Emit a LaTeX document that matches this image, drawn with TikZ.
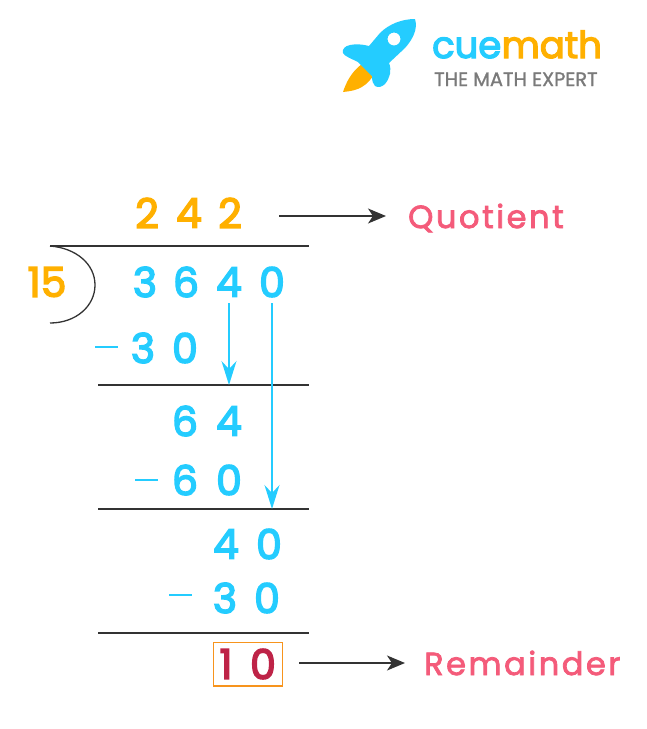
\documentclass[tikz,border=0pt]{standalone}
\usepackage{fontspec}
\setmainfont{Poppins}
\newfontfamily\spacedfont[LetterSpace=8,FakeBold=2.4]{Poppins}
\newfontfamily\digitfont[FakeBold=3.6]{Poppins}
\newfontfamily\logofont[FakeBold=3.4]{Poppins}
\newfontfamily\tagfont[FakeBold=1.2]{Poppins}
\usetikzlibrary{arrows.meta}
\definecolor{cueblue}{HTML}{24CCFF}
\definecolor{cueorange}{HTML}{FFB000}
\definecolor{cueframe}{HTML}{F7941D}
\definecolor{cuepink}{HTML}{F45B7A}
\definecolor{cuered}{HTML}{BE2347}
\definecolor{cuegray}{HTML}{7A7A7A}
\definecolor{cueline}{HTML}{333333}
\tikzset{
  digit/.style={inner sep=0pt,font=\fontsize{41}{41}\digitfont},
  bluedigit/.style={digit,text=cueblue},
  orangedigit/.style={digit,text=cueorange},
  reddigit/.style={digit,text=cuered},
  labeltext/.style={inner sep=0pt,anchor=west,text=cuepink,font=\fontsize{32}{32}\spacedfont},
  rule/.style={draw=cueline,line width=1.5pt},
  pointer/.style={draw=cueline,line width=1.5pt,-{Stealth[length=18pt,width=15pt,inset=5pt]}},
  drop/.style={draw=cueblue,line width=1.5pt,-{Stealth[length=24pt,width=15pt,inset=8pt]}},
  minus/.style={draw=cueblue,line width=1.5pt}
}
\begin{document}
\begin{tikzpicture}[x=1pt,y=-1pt]
\useasboundingbox (0,0) rectangle (646,729);
% Draw the logo
        \fill[cueorange] (362,64) .. controls (351,72) and (346,83) .. (343,92)
        .. controls (352,91) and (364,90) .. (373,76) -- cycle;
        \fill[cueblue,even odd rule] (415,19) .. controls (402,19) and (389,24) .. (380,33)
        -- (369,46) .. controls (362,44) and (355,44) .. (350,45)
        .. controls (345,46) and (342,49) .. (343,53) .. controls (344,56) and (352,59) .. (358,62)
        -- (372,76) .. controls (372,81) and (373,84) .. (375,86)
        .. controls (378,88) and (382,87) .. (385,84) .. controls (390,78) and (392,70) .. (389,63)
        -- (405,48) .. controls (413,39) and (418,29) .. (415,19) -- cycle
        (394,39) circle[radius=6.5];
        \node[inner sep=0pt,anchor=base west] (cue) at (432,58) {\fontsize{37}{37}\logofont\color{cueblue}cue};
        \node[inner sep=0pt,anchor=base west] (math) at (cue.base east) {\fontsize{37}{37}\logofont\color{cueorange}math};
        \node[inner sep=0pt,anchor=base west,text=cuegray] (expert) at (434,86) {\fontsize{19.4}{19.4}\tagfont THE MATH EXPERT};
% Draw the quotient
        \node[orangedigit] (q1) at (147,213) {2};
        \node[orangedigit] (q2) at (189,213) {4};
        \node[orangedigit] (q3) at (230,213) {2};
        \node[labeltext] (quotient) at (408,218) {Quotient};
        \coordinate (qstart) at (279,216);
        \coordinate (qend) at (386,216);
        \draw[pointer] (qstart) -- (qend);
% Draw the divisor and the dividend
        \node[orangedigit] (divisor) at (47,282) {15};
        \node[bluedigit] (d1) at (145,282) {3};
        \node[bluedigit] (d2) at (186,282) {6};
        \node[bluedigit] (d3) at (229,282) {4};
        \node[bluedigit] (d4) at (272,282) {0};
        \coordinate (barleft) at (50,246);
        \coordinate (barright) at (309,246);
        \coordinate (hookend) at (50,323);
        \draw[rule] (barleft) -- (barright);
        \draw[cueline,line width=1.3pt] (barleft) .. controls (76,248) and (95,264) .. (95,285)
        .. controls (95,306) and (76,323) .. (hookend);
% Draw the first subtraction
        \coordinate (m1a) at (95,347);
        \coordinate (m1b) at (118,347);
        \draw[minus] (m1a) -- (m1b);
        \node[bluedigit] (s1) at (143,348) {3};
        \node[bluedigit] (s2) at (185,348) {0};
        \coordinate (r1a) at (98,385);
        \coordinate (r1b) at (309,385);
        \draw[rule] (r1a) -- (r1b);
        \node[bluedigit] (n1) at (185,421) {6};
        \node[bluedigit] (n2) at (229,421) {4};
% Draw the second subtraction
        \coordinate (m2a) at (135,480);
        \coordinate (m2b) at (158,480);
        \draw[minus] (m2a) -- (m2b);
        \node[bluedigit] (t1) at (185,480) {6};
        \node[bluedigit] (t2) at (229,480) {0};
        \coordinate (r2a) at (98,509);
        \coordinate (r2b) at (309,509);
        \draw[rule] (r2a) -- (r2b);
        \node[bluedigit] (u1) at (226,544) {4};
        \node[bluedigit] (u2) at (269,544) {0};
% Draw the third subtraction
        \coordinate (m3a) at (169,595);
        \coordinate (m3b) at (192,595);
        \draw[minus] (m3a) -- (m3b);
        \node[bluedigit] (v1) at (225,598) {3};
        \node[bluedigit] (v2) at (267,598) {0};
        \coordinate (r3a) at (98,633);
        \coordinate (r3b) at (309,633);
        \draw[rule] (r3a) -- (r3b);
% Draw the remainder
        \coordinate (boxa) at (213.5,642.5);
        \coordinate (boxb) at (282.5,686);
        \draw[cueframe,line width=1.5pt] (boxa) rectangle (boxb);
        \node[reddigit] (w1) at (226,664) {1};
        \node[reddigit] (w2) at (263,664) {0};
        \node[labeltext] (remainder) at (424,663) {Remainder};
        \coordinate (rstart) at (299,663);
        \coordinate (rend) at (405,663);
        \draw[pointer] (rstart) -- (rend);
% Draw the down arrows
        \coordinate (drop1a) at (229,303);
        \coordinate (drop1b) at (229,385);
        \coordinate (drop2a) at (272,303);
        \coordinate (drop2b) at (272,509);
        \draw[drop] (drop1a) -- (drop1b);
        \draw[drop] (drop2a) -- (drop2b);
\end{tikzpicture}
\end{document}
